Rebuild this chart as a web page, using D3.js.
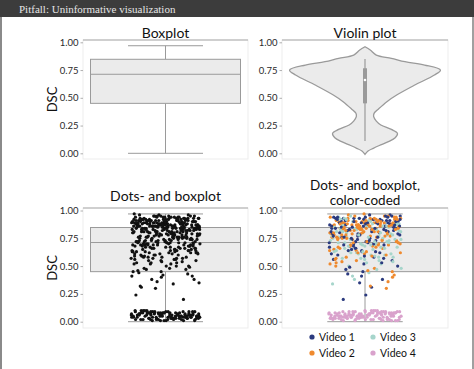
<!DOCTYPE html>
<html>
<head>
<meta charset="utf-8">
<script src="https://cdn.jsdelivr.net/npm/d3@7"></script>
<style>
  html, body { margin: 0; padding: 0; background: #fff; }
  svg { display: block; font-family: Lato, "Open Sans", sans-serif; }
</style>
</head>
<body>
<script>
// DSC values per video.
const video1 = [0.91,0.84,0.72,0.95,0.63,0.88,0.79,0.55,0.93,0.81,0.68,0.86,0.47,0.92,0.76,0.89,0.60,0.83,0.94,0.71,0.87,0.52,0.90,0.78,0.85,0.66,0.96,0.74,0.82,0.43,0.91,0.69,0.88,0.80,0.58,0.93,0.75,0.86,0.24,0.92,0.64,0.84,0.77,0.95,0.70,0.89,0.49,0.83,0.87,0.62,0.90,0.73,0.94,0.81,0.56,0.88,0.67,0.92,0.79,0.35,0.85,0.72,0.91,0.65,0.86,0.82,0.53,0.93,0.76,0.89,0.70,0.84,0.96,0.61,0.88,0.78,0.41,0.90,0.74,0.87,0.68,0.94,0.83,0.57,0.91,0.80,0.85,0.63,0.92,0.31,0.77,0.89,0.71,0.86,0.50,0.93,0.82,0.66,0.88,0.75,0.95,0.84,0.59,0.90,0.20,0.79,0.87,0.69,0.92,0.45,0.85,0.73,0.91,0.81,0.64,0.94,0.38,0.86,0.76,0.89];
const video2 = [0.83,0.76,0.90,0.68,0.87,0.72,0.94,0.61,0.85,0.79,0.92,0.55,0.88,0.74,0.81,0.96,0.66,0.89,0.70,0.84,0.48,0.91,0.77,0.86,0.63,0.93,0.80,0.73,0.87,0.40,0.90,0.69,0.82,0.95,0.58,0.88,0.75,0.84,0.67,0.92,0.78,0.86,0.52,0.89,0.71,0.83,0.94,0.64,0.87,0.79,0.30,0.91,0.74,0.85,0.69,0.88,0.81,0.57,0.93,0.76,0.84,0.62,0.90,0.72,0.87,0.45,0.82,0.95,0.68,0.89,0.78,0.86,0.54,0.92,0.75,0.83,0.65,0.88,0.80,0.97,0.71,0.85,0.42,0.90,0.77,0.87,0.60,0.93,0.73,0.84,0.81,0.66,0.89,0.50,0.86,0.79,0.91,0.70,0.83,0.94,0.62,0.88,0.76,0.85,0.36,0.90,0.72,0.87,0.82,0.56,0.92,0.78,0.84,0.67,0.89,0.74,0.95,0.59,0.86,0.80,0.91,0.69,0.83,0.46,0.88,0.77,0.85,0.64,0.93,0.75,0.87,0.81,0.53,0.90,0.71,0.84,0.32,0.89,0.79,0.86];
const video3 = [0.78,0.64,0.86,0.71,0.55,0.82,0.69,0.91,0.60,0.75,0.87,0.48,0.80,0.67,0.93,0.58,0.84,0.73,0.62,0.89,0.76,0.52,0.81,0.70,0.94,0.65,0.85,0.44,0.79,0.68,0.88,0.57,0.74,0.83,0.61,0.90,0.72,0.50,0.86,0.66,0.77,0.92,0.59,0.81,0.69,0.34,0.85,0.74,0.63,0.88,0.78,0.54,0.83,0.71,0.95,0.60,0.80,0.67,0.87,0.47,0.76,0.84,0.65,0.91,0.73,0.56,0.82,0.70,0.89,0.62,0.79,0.41,0.86,0.68,0.75,0.93,0.58,0.84,0.72,0.64,0.90,0.77,0.53,0.81,0.69,0.87,0.61,0.78,0.38,0.85,0.74,0.66,0.92,0.80,0.57,0.83,0.71,0.88,0.63,0.76];
const video4 = [0.05,0.08,0.02,0.07,0.04,0.09,0.03,0.06,0.01,0.08,0.05,0.10,0.03,0.07,0.06,0.02,0.09,0.04,0.08,0.05,0.01,0.07,0.03,0.06,0.09,0.04,0.08,0.02,0.05,0.07,0.10,0.03,0.06,0.08,0.04,0.01,0.07,0.05,0.09,0.02,0.06,0.08,0.03,0.07,0.04,0.10,0.05,0.02,0.08,0.06,0.03,0.09,0.04,0.07,0.01,0.05,0.08,0.06,0.02,0.09,0.04,0.07,0.03,0.05,0.10,0.06,0.08,0.02,0.04,0.07,0.05,0.09,0.03,0.06,0.01,0.08,0.04,0.07,0.05,0.02,0.09,0.06,0.03,0.08,0.05,0.07,0.04,0.10,0.02,0.06,0.08,0.03,0.05,0.09,0.04,0.07,0.01,0.06,0.08,0.05,0.03,0.07,0.09,0.02,0.04,0.06,0.08,0.05,0.07,0.03];

const videoNames = ["Video 1", "Video 2", "Video 3", "Video 4"];
const videoColors = ["#2b3a7e", "#ef8a2f", "#a6d5cb", "#d9a2cc"];

// lower whisker, Q1, median, Q3, upper whisker
const boxStats = [0, 0.45, 0.712, 0.847, 0.969];

// violin outline: DSC level and relative half-width (1 = widest)
const violinDsc =   [-0.01, 0.02, 0.045, 0.07, 0.105, 0.14, 0.18, 0.215, 0.255, 0.29, 0.33, 0.36, 0.40, 0.465, 0.525, 0.615, 0.705, 0.75, 0.795, 0.825, 0.856, 0.885, 0.93, 0.96];
const violinWidth = [0, 0.04, 0.11, 0.19, 0.31, 0.40, 0.43, 0.35, 0.21, 0.15, 0.115, 0.12, 0.18, 0.29, 0.42, 0.66, 0.92, 1, 0.79, 0.53, 0.35, 0.15, 0.07, 0];
// inner whisker low, box low, median dot, box high, whisker high
const violinInner = [0.11, 0.45, 0.66, 0.766, 0.85];

const yTicks = [0, 0.25, 0.5, 0.75, 1];

const width = 474, height = 369;
const gray = "#9a9a9a";

const svg = d3.select("body").append("svg").attr("width", width).attr("height", height);

svg.append("rect").attr("width", width).attr("height", height).attr("fill", "#fff");
svg.append("rect").attr("width", 2).attr("height", height).attr("fill", "#8a8a8a");
svg.append("rect").attr("x", width - 2).attr("width", 2).attr("height", height).attr("fill", "#a0a0a0");
svg.append("rect").attr("width", width).attr("height", 17).attr("fill", "#3c3c3c");
svg.append("text")
  .attr("x", 19).attr("y", 12.5)
  .attr("font-family", "'Liberation Serif', 'DejaVu Serif', serif")
  .attr("font-size", 11).attr("fill", "#e6e6e6")
  .text("Pitfall: Uninformative visualization");

const panels = [
  { kind: "box",    x0: 83,  x1: 248, top: 40,  bottom: 159, yAt0: 153.3, yAt1: 42.3,  title: ["Boxplot"], titleY: [38], dsc: true },
  { kind: "violin", x0: 282, x1: 448, top: 40,  bottom: 159, yAt0: 153.3, yAt1: 42.3,  title: ["Violin plot"], titleY: [38], dsc: false },
  { kind: "dots",   x0: 83,  x1: 248, top: 208, bottom: 328, yAt0: 321.7, yAt1: 210.5, title: ["Dots- and boxplot"], titleY: [201], dsc: true },
  { kind: "color",  x0: 282, x1: 448, top: 208, bottom: 328, yAt0: 321.7, yAt1: 210.5, title: ["Dots- and boxplot,", "color-coded"], titleY: [189.5, 205], dsc: false },
];

// all dots interleaved across videos so colours mix when drawn
const allVideos = [video1, video2, video3, video4];
const dots = [];
for (let i = 0; i < d3.max(allVideos, (v) => v.length); i++) {
  allVideos.forEach((vals, k) => {
    if (i < vals.length) dots.push({ video: k, dsc: vals[i] });
  });
}

// deterministic spread inside the jitter band
const spread = (i, seed) => ((i * 0.6180339887 + seed) % 1) * 2 - 1;

const drawBox = (g, x, y) => {
  const [lo, q1, med, q3, hi] = boxStats;
  g.append("line").attr("x1", x(1)).attr("x2", x(1)).attr("y1", y(hi)).attr("y2", y(q3)).attr("stroke", gray);
  g.append("line").attr("x1", x(1)).attr("x2", x(1)).attr("y1", y(q1)).attr("y2", y(lo)).attr("stroke", gray);
  [lo, hi].forEach((v) => {
    g.append("line").attr("x1", x(0.75)).attr("x2", x(1.25)).attr("y1", y(v)).attr("y2", y(v)).attr("stroke", gray);
  });
  g.append("rect")
    .attr("x", x(0.5)).attr("width", x(1.5) - x(0.5))
    .attr("y", y(q3)).attr("height", y(q1) - y(q3))
    .attr("fill", "#ebebeb").attr("stroke", gray);
  g.append("line").attr("x1", x(0.5)).attr("x2", x(1.5)).attr("y1", y(med)).attr("y2", y(med)).attr("stroke", gray);
};

panels.forEach((p, pi) => {
  const g = svg.append("g");
  const x = d3.scaleLinear().domain([0.45, 1.55]).range([p.x0, p.x1]);
  const y = d3.scaleLinear().domain([0, 1]).range([p.yAt0, p.yAt1]);

  // frame
  g.append("rect")
    .attr("x", p.x0).attr("y", p.top).attr("width", p.x1 - p.x0).attr("height", p.bottom - p.top)
    .attr("fill", "#fff").attr("stroke", "#ededed");
  g.append("line").attr("x1", p.x0).attr("x2", p.x1).attr("y1", p.top).attr("y2", p.top).attr("stroke", "#a8a8a8");

  // y axis
  const axis = g.append("g")
    .attr("transform", `translate(${p.x0},0)`)
    .call(d3.axisLeft(y).tickValues(yTicks).tickFormat(d3.format(".2f")).tickSize(2.5).tickPadding(2));
  axis.select(".domain").remove();
  axis.selectAll(".tick line").attr("stroke", "#b0b0b0");
  axis.selectAll(".tick text").attr("font-family", "Lato, sans-serif").attr("font-size", 9.5).attr("fill", "#2a2a2a");

  if (p.dsc) {
    g.append("text")
      .attr("transform", `translate(57,${(p.top + p.bottom) / 2}) rotate(-90)`)
      .attr("text-anchor", "middle").attr("font-size", 13).attr("fill", "#111")
      .text("DSC");
  }

  p.title.forEach((t, i) => {
    g.append("text")
      .attr("x", (p.x0 + p.x1) / 2).attr("y", p.titleY[i])
      .attr("text-anchor", "middle").attr("font-size", p.title.length > 1 ? 13.5 : 14).attr("fill", "#111")
      .text(t);
  });

  if (p.kind === "box") drawBox(g, x, y);

  if (p.kind === "violin") {
    const pts = violinDsc.map((v, i) => ({ v, w: violinWidth[i] }));
    const area = d3.area()
      .y((d) => y(d.v))
      .x0((d) => x(1 - 0.5 * d.w))
      .x1((d) => x(1 + 0.5 * d.w))
      .curve(d3.curveCatmullRom);
    g.append("path").datum(pts).attr("d", area)
      .attr("fill", "#ebebeb").attr("stroke", gray).attr("stroke-width", 1.3);
    const [wLo, bLo, med, bHi, wHi] = violinInner;
    g.append("line").attr("x1", x(1)).attr("x2", x(1)).attr("y1", y(wLo)).attr("y2", y(wHi))
      .attr("stroke", gray).attr("stroke-width", 1.2);
    g.append("line").attr("x1", x(1)).attr("x2", x(1)).attr("y1", y(bLo)).attr("y2", y(bHi))
      .attr("stroke", gray).attr("stroke-width", 4);
    g.append("circle").attr("cx", x(1)).attr("cy", y(med)).attr("r", 1.3).attr("fill", "#fff");
  }

  if (p.kind === "dots" || p.kind === "color") {
    drawBox(g, x, y);
    const seed = pi === 2 ? 0.13 : 0.57;
    const band = pi === 2 ? 0.23 : 0.24;
    g.append("g").selectAll("circle").data(dots).join("circle")
      .attr("cx", (d, i) => x(1 + band * spread(i, seed)))
      .attr("cy", (d) => y(d.dsc))
      .attr("r", 1.6)
      .attr("fill", (d) => (p.kind === "dots" ? "#111" : videoColors[d.video]));
  }
});

// legend
const legend = svg.append("g").attr("font-size", 10.5).attr("fill", "#111");
videoNames.forEach((name, i) => {
  const col = Math.floor(i / 2), row = i % 2;
  const lx = 312 + col * 61, ly = 337 + row * 16;
  legend.append("circle").attr("cx", lx).attr("cy", ly).attr("r", 2.6).attr("fill", videoColors[i]);
  legend.append("text").attr("x", lx + 7).attr("y", ly).attr("dy", "0.35em").text(name);
});
</script>
</body>
</html>
